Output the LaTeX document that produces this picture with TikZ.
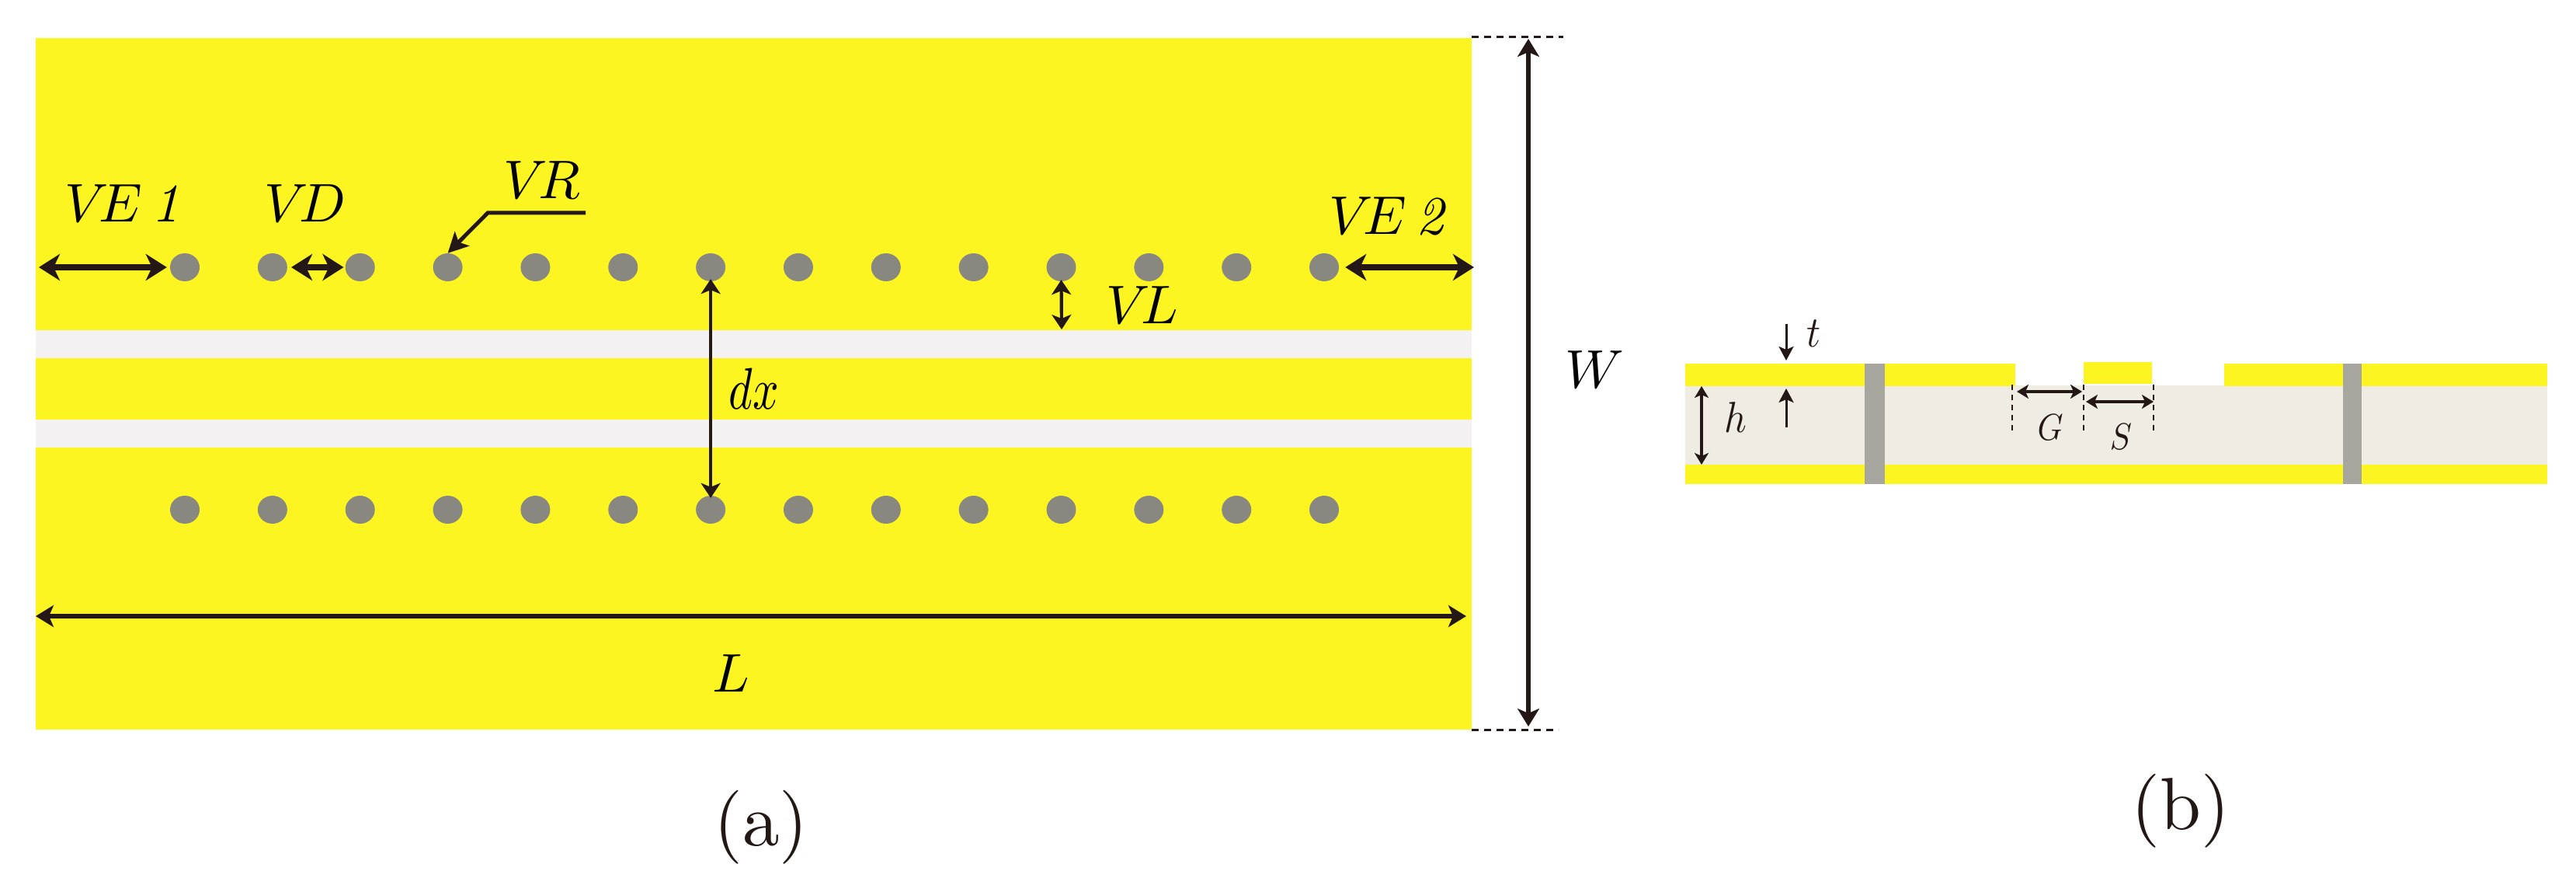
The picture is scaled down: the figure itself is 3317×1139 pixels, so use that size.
\documentclass[tikz,border=0pt]{standalone}
\usetikzlibrary{arrows.meta,shapes.geometric}
\definecolor{gold}{HTML}{FDF521}
\definecolor{slot}{HTML}{F3F1F1}
\definecolor{viaface}{HTML}{888780}
\definecolor{viaside}{HTML}{A8A79F}
\definecolor{subst}{HTML}{EEECE3}
\definecolor{ink}{HTML}{231815}
\tikzset{
  viadot/.style={ellipse,fill=viaface,inner sep=0pt,minimum width=38pt,minimum height=36pt},
  bigdim/.style={draw=ink,line width=8pt,{Stealth[length=27pt,width=34pt,inset=8pt]}-{Stealth[length=27pt,width=34pt,inset=8pt]}},
  middim/.style={draw=ink,line width=5.5pt,{Stealth[length=23pt,width=28pt,inset=6pt]}-{Stealth[length=23pt,width=28pt,inset=6pt]}},
  thindim/.style={draw=ink,line width=4.2pt,{Stealth[length=19pt,width=25pt,inset=5pt]}-{Stealth[length=19pt,width=25pt,inset=5pt]}},
  smalldim/.style={draw=ink,line width=3.5pt,{Stealth[length=15pt,width=18pt,inset=4pt]}-{Stealth[length=15pt,width=18pt,inset=4pt]}},
  oneway/.style={draw=ink,line width=3pt,-{Stealth[length=18pt,width=19pt,inset=4pt]}},
  guide/.style={draw=ink,line width=3pt,dash pattern=on 9pt off 7pt},
  lab/.style={inner sep=0pt,text=black,transform shape,scale=7},
  smalllab/.style={inner sep=0pt,text=ink,transform shape,xscale=4.2,yscale=4.8},
  midlab/.style={inner sep=0pt,text=ink,transform shape,xscale=5,yscale=5.6},
  caplab/.style={inner sep=0pt,text=ink,transform shape,scale=9.5},
}
\begin{document}
\begin{tikzpicture}[x=1pt,y=-1pt]
\useasboundingbox (0,0) rectangle (3317,1139);
\fill[white] (0,0) rectangle (3317,1139);
% top view
\fill[gold] (46,49) rectangle (1895,939);
\fill[slot] (46,425) rectangle (1895,461);
\fill[slot] (46,540) rectangle (1895,576);
\foreach \i in {1,...,14}{
  \pgfmathsetmacro{\xx}{238+(\i-1)*112.85}
  \node[viadot] (t\i) at (\xx,344) {};
  \node[viadot] (b\i) at (\xx,656) {};
}
\coordinate (ve1l) at (50,344);
\coordinate (ve2r) at (1898,344);
\coordinate (lenl) at (46,793);
\coordinate (lenr) at (1888,793);
\coordinate (wtop) at (1968,50);
\coordinate (wbot) at (1968,935);
\coordinate (vlb) at (1367,424);
\coordinate (dtl) at (1895,48);
\coordinate (dtr) at (2013,48);
\coordinate (dbl) at (1895,939);
\coordinate (dbr) at (2007,939);
\coordinate (vra) at (754,274);
\coordinate (vrb) at (628,274);
\draw[bigdim] (ve1l) -- ([xshift=-4pt]t1.west);
\draw[bigdim] ([xshift=5pt]t2.east) -- ([xshift=-2pt]t3.west);
\draw[bigdim] ([xshift=8pt]t14.east) -- (ve2r);
\draw[thindim] ([yshift=3pt]t7.south) -- ([yshift=-3pt]b7.north);
\draw[thindim] ([yshift=2pt]t11.south) -- (vlb);
\draw[middim] (lenl) -- (lenr);
\draw[middim] (wtop) -- (wbot);
\draw[draw=ink,line width=5pt,-{Stealth[length=26pt,width=26pt,inset=6pt]}] (vra) -- (vrb) -- (t4.north);
\draw[guide] (dtl) -- (dtr);
\draw[guide] (dbl) -- (dbr);
\node[lab] (lve1) at (162,262) {$V\!E\,\mathit{1}$};
\node[lab] (lvd) at (393,262) {$V\!D$};
\node[lab] (lvr) at (698,232) {$V\!R$};
\node[lab] (lve2) at (1790,278) {$V\!E\,\mathit{2}$};
\node[lab] (lvl) at (1471,393) {$V\!L$};
\node[lab,xscale=0.84,yscale=1.08] (ldx) at (971,500) {$dx$};
\node[lab] (ll) at (941,867) {$L$};
\node[lab] (lw) at (2053,476) {$W$};
\node[caplab] (capa) at (980,1065) {(a)};
\node[caplab] (capb) at (2808,1044) {(b)};
% cross-section
\fill[subst] (2170,496) rectangle (3280,598);
\fill[gold] (2170,468) rectangle (2595,497);
\fill[gold] (2683,466) rectangle (2771,494);
\fill[gold] (2864,468) rectangle (3280,497);
\fill[gold] (2170,598) rectangle (3280,623);
\fill[viaside] (2401,468) rectangle (2427,623);
\fill[viaside] (3017,468) rectangle (3041,623);
\coordinate (tda) at (2300,417);
\coordinate (tdb) at (2300,464);
\coordinate (tua) at (2300,550);
\coordinate (tub) at (2300,500);
\coordinate (hta) at (2191,497);
\coordinate (htb) at (2191,598);
\coordinate (gl) at (2597,504);
\coordinate (gr) at (2681,504);
\coordinate (sl) at (2686,517);
\coordinate (sr) at (2773,517);
\coordinate (g1a) at (2591,495);
\coordinate (g1b) at (2591,560);
\coordinate (g2a) at (2683,495);
\coordinate (g2b) at (2683,560);
\coordinate (g3a) at (2773,495);
\coordinate (g3b) at (2773,560);
\draw[oneway] (tda) -- (tdb);
\draw[oneway] (tua) -- (tub);
\draw[smalldim] (hta) -- (htb);
\draw[smalldim] (gl) -- (gr);
\draw[smalldim] (sl) -- (sr);
\draw[guide,line width=2pt,dash pattern=on 7pt off 6pt] (g1a) -- (g1b);
\draw[guide,line width=2pt,dash pattern=on 7pt off 6pt] (g2a) -- (g2b);
\draw[guide,line width=2pt,dash pattern=on 7pt off 6pt] (g3a) -- (g3b);
\node[midlab] (lt) at (2335,429) {$t$};
\node[midlab] (lh) at (2235,537) {$h$};
\node[smalllab] (lg) at (2640,550) {$G$};
\node[smalllab] (ls) at (2731,562) {$S$};
\end{tikzpicture}
\end{document}
